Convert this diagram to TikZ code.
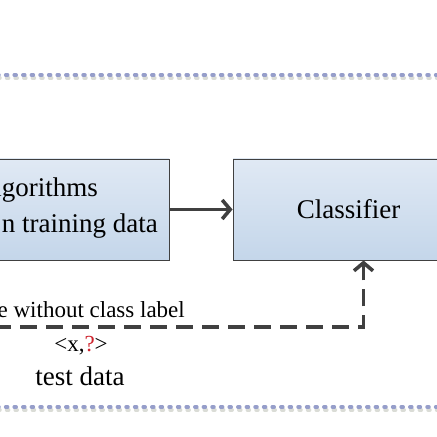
\documentclass[tikz,border=0pt]{standalone}
\usepackage{fontspec}
\setmainfont{Liberation Serif}
\usetikzlibrary{arrows.meta}
\definecolor{boxtop}{RGB}{224,233,244}
\definecolor{boxbot}{RGB}{196,214,234}
\definecolor{linegray}{RGB}{64,64,64}
\definecolor{dotblue}{RGB}{150,158,202}
\definecolor{dotshade}{RGB}{218,220,214}
\definecolor{qred}{RGB}{205,35,45}
\tikzset{
  stagebox/.style={draw=linegray,line width=0.9pt,top color=boxtop,bottom color=boxbot,
    minimum height=101pt,inner sep=0pt},
  bigtext/.style={font=\fontsize{27}{32}\selectfont,inner sep=0pt},
  smalltext/.style={font=\fontsize{23}{28}\selectfont,inner sep=0pt},
  flow/.style={linegray,line width=3.6pt,-{Straight Barb[length=8pt,width=19pt]}},
  testflow/.style={flow,dash pattern=on 17pt off 9pt},
  dotrow/.style={dotblue,line width=3.5pt,line cap=round,dash pattern=on 2pt off 6.6pt},
  dotshadow/.style={dotrow,dotshade},
}
\begin{document}
\begin{tikzpicture}[x=1pt,y=1pt]
\useasboundingbox (0,0) rectangle (437,437);
\clip (0,0) rectangle (437,437);
%dotted frame lines
\draw[dotshadow] (-2,359)--(440,359);
\draw[dotrow] (-3,362)--(440,362);
\draw[dotshadow] (-2,27)--(440,27);
\draw[dotrow] (-3,30)--(440,30);
%
\node[stagebox,minimum width=190pt] (learner) at (74,227.5) {};
\node[stagebox,minimum width=231pt,bigtext] (classifier) at (348.5,227.5) {Classifier};
\node[bigtext,anchor=base east] (algo) at (98,240) {algorithms};
\node[bigtext,anchor=base east] (train) at (158,204) {n training data};
%
\draw[flow] (learner.east) -- (classifier.west);
%
\coordinate (testin) at (-6,110);
\coordinate (entry) at ([xshift=15pt]classifier.south);
\draw[testflow] (testin) -| (entry);
\node[smalltext,anchor=base east] (nolabel) at (185,119) {e without class label};
\node[smalltext,anchor=base] (pair) at (81,85) {<x,\textcolor{qred}{?}>};
\node[bigtext,anchor=base] (testdata) at (80,51) {test data};
\end{tikzpicture}
\end{document}
